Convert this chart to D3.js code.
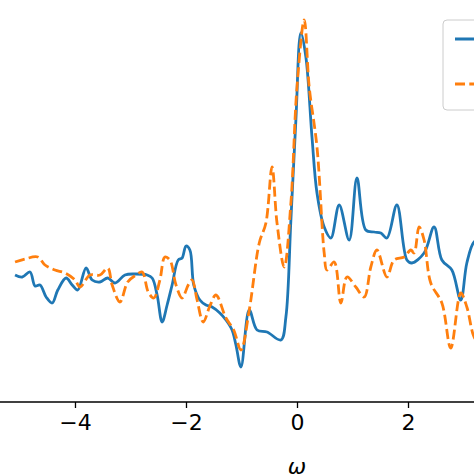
<!DOCTYPE html><html><head><meta charset="utf-8"><script src="https://cdn.jsdelivr.net/npm/d3@7"></script>
<style>body{margin:0;background:#fff}</style></head><body><svg id="c" width="474" height="474"></svg><script>
const blue=[[-5.08,1.27],[-4.95,1.25],[-4.81,1.30],[-4.72,1.16],[-4.63,1.17],[-4.52,1.05],[-4.41,0.99],[-4.31,1.12],[-4.16,1.24],[-4.05,1.17],[-3.95,1.12],[-3.80,1.34],[-3.69,1.22],[-3.55,1.20],[-3.41,1.24],[-3.28,1.19],[-3.10,1.27],[-2.92,1.28],[-2.70,1.27],[-2.61,1.24],[-2.52,1.07],[-2.43,0.80],[-2.34,0.97],[-2.25,1.17],[-2.14,1.42],[-2.07,1.44],[-2.00,1.56],[-1.93,1.52],[-1.86,1.17],[-1.75,1.02],[-1.64,0.97],[-1.53,0.95],[-1.39,0.89],[-1.28,0.82],[-1.17,0.72],[-1.10,0.57],[-1.01,0.35],[-0.86,0.92],[-0.72,0.72],[-0.54,0.70],[-0.29,0.62],[-0.20,0.85],[-0.11,1.82],[-0.02,2.82],[0.07,3.69],[0.16,3.45],[0.27,2.65],[0.36,2.09],[0.49,1.75],[0.61,1.64],[0.76,1.97],[0.94,1.62],[1.08,2.24],[1.24,1.72],[1.39,1.70],[1.51,1.69],[1.62,1.64],[1.80,1.97],[1.98,1.42],[2.07,1.39],[2.29,1.49],[2.47,1.75],[2.61,1.42],[2.79,1.32],[2.95,1.02],[3.06,1.39],[3.19,1.60],[3.30,1.62]];
const orange=[[-5.08,1.40],[-4.90,1.43],[-4.67,1.45],[-4.54,1.37],[-4.36,1.32],[-4.18,1.29],[-4.00,1.22],[-3.91,1.15],[-3.73,1.27],[-3.55,1.27],[-3.41,1.34],[-3.33,1.17],[-3.19,1.00],[-3.05,1.20],[-2.90,1.27],[-2.79,1.30],[-2.68,1.10],[-2.58,1.04],[-2.47,1.22],[-2.38,1.45],[-2.29,1.42],[-2.18,1.17],[-2.07,1.04],[-1.96,1.17],[-1.89,1.22],[-1.80,1.02],[-1.69,0.80],[-1.57,0.96],[-1.46,1.07],[-1.28,0.84],[-1.14,0.72],[-1.01,0.52],[-0.86,0.92],[-0.68,1.59],[-0.56,1.79],[-0.45,2.35],[-0.36,1.79],[-0.23,1.35],[-0.11,1.99],[0.00,3.15],[0.13,3.82],[0.22,3.15],[0.36,2.55],[0.49,1.49],[0.54,1.32],[0.67,1.40],[0.79,0.99],[0.90,1.25],[1.06,1.15],[1.21,1.05],[1.33,1.35],[1.44,1.52],[1.62,1.25],[1.75,1.42],[1.93,1.45],[2.05,1.52],[2.11,1.49],[2.20,1.75],[2.29,1.62],[2.41,1.19],[2.61,0.99],[2.77,0.54],[2.95,1.09],[3.06,0.95],[3.19,0.65],[3.30,0.57]];
const xTicks=[-4,-2,0,2];
const svg=d3.select("#c");
const x=d3.scaleLinear().domain([-5.351,3.189]).range([0,474]);
const y=d3.scaleLinear().domain([0,4.02]).range([402,0]);
const line=d3.line().x(d=>x(d[0])).y(d=>y(d[1])).curve(d3.curveCatmullRom.alpha(0.5));
svg.append("path").datum(blue).attr("d",line).attr("fill","none").attr("stroke","#1f77b4").attr("stroke-width",2.8).attr("stroke-linejoin","round");
svg.append("path").datum(orange).attr("d",line).attr("fill","none").attr("stroke","#ff7f0e").attr("stroke-width",2.8).attr("stroke-dasharray","10,4.3");
const ax=svg.append("g").attr("transform","translate(0,402)").call(d3.axisBottom(x).tickValues(xTicks).tickSize(6).tickPadding(6).tickFormat(d=>d3.format("")(d).replace("-","−")));
ax.select(".domain").attr("stroke","#000").attr("stroke-width",1.3).attr("d","M0,0H474");
ax.selectAll("line").attr("stroke-width",1.3);
ax.selectAll("text").attr("font-family","DejaVu Sans").attr("font-size",22).attr("fill","#000");
svg.append("text").attr("x",297).attr("y",474).attr("text-anchor","middle").attr("font-family","DejaVu Sans").attr("font-style","italic").attr("font-size",22).text("ω");
svg.append("rect").attr("x",443).attr("y",20).attr("width",60).attr("height",90).attr("rx",4).attr("fill","#fff").attr("fill-opacity",0.8).attr("stroke","#ccc");
svg.append("line").attr("x1",455).attr("x2",490).attr("y1",39).attr("y2",39).attr("stroke","#1f77b4").attr("stroke-width",2.8);
svg.append("line").attr("x1",455).attr("x2",490).attr("y1",84).attr("y2",84).attr("stroke","#ff7f0e").attr("stroke-width",2.8).attr("stroke-dasharray","10,4.3");
</script></body></html>
